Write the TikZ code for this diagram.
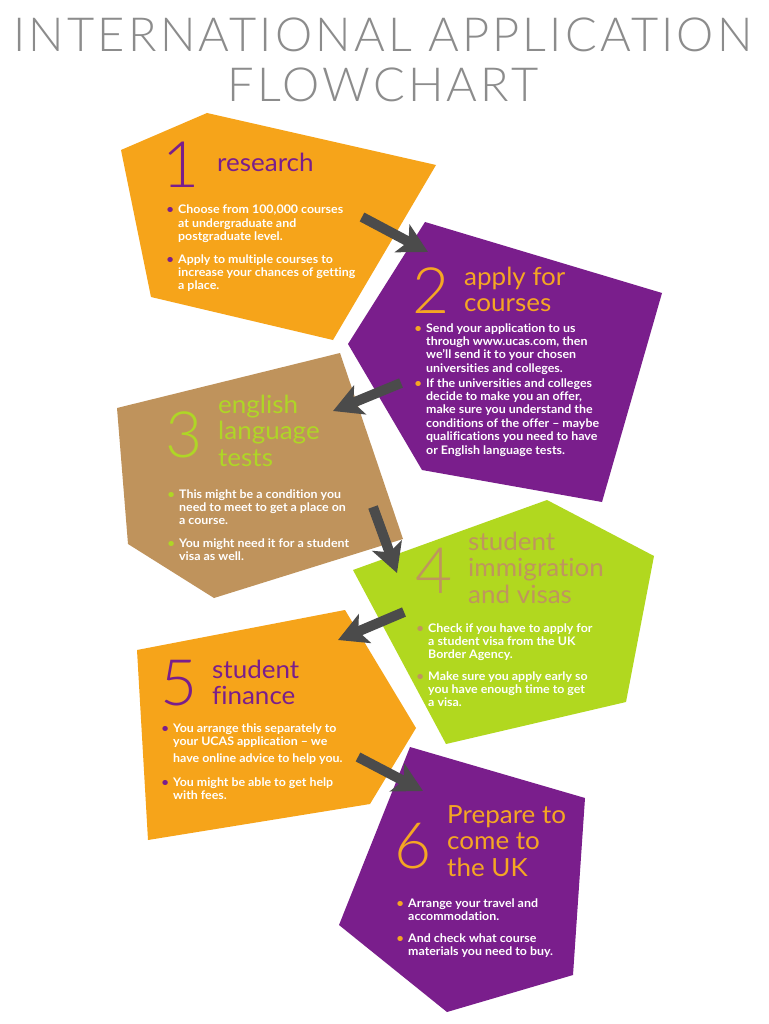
\documentclass[tikz,border=0pt]{standalone}
\usepackage{fontspec}
\setmainfont{Lato}[Ligatures=NoCommon]
\newfontfamily\thinfont{Lato Light}
\usetikzlibrary{arrows.meta}
\definecolor{orng}{HTML}{F6A41A}
\definecolor{purp}{HTML}{7A1E8C}
\definecolor{tan}{HTML}{BF935C}
\definecolor{lime}{HTML}{B1D81F}
\definecolor{headorng}{HTML}{F5A623}
\definecolor{headlime}{HTML}{AFD626}
\definecolor{headtan}{HTML}{BF955E}
\definecolor{titlegray}{HTML}{8C8C8C}
\definecolor{arrowgray}{HTML}{4B4B4B}
\newcommand\btext[2]{\begin{tabular}[t]{@{}l@{}}\llap{\textcolor{#1}{\textbullet}\hspace{4.5pt}}#2\end{tabular}}
\newcommand\hlines[1]{\begin{tabular}[t]{@{}l@{}}#1\end{tabular}}
\tikzset{
  body/.style={inner sep=0pt, anchor=base west, text=white, font=\bfseries\fontsize{11.8}{13.4}\selectfont\addfontfeature{FakeStretch=1.05}},
  head/.style={inner sep=0pt, anchor=base west, font=\fontsize{25}{26.8}\selectfont\addfontfeature{FakeStretch=1.04}},
  num/.style={inner sep=0pt, anchor=base, font=\thinfont\fontsize{64}{64}\selectfont},
  titletext/.style={inner sep=0pt, anchor=base, text=titlegray, font=\thinfont\fontsize{47}{47}\selectfont\addfontfeature{LetterSpace=6.8}},
  bigarrow/.style={draw=arrowgray, line width=10pt, -{Stealth[length=29pt, width=31pt, inset=7pt]}}
}
\begin{document}
\begin{tikzpicture}[x=1pt,y=-1pt]
\useasboundingbox (0,0) rectangle (768,1024);
\fill[white] (0,0) rectangle (768,1024);

% title
\node[titletext] (t1) at (383,52) {INTERNATIONAL APPLICATION};
\node[titletext] (t2) at (383,102) {FLOWCHART};

% shapes
\fill[orng] (207,113) -- (436,165) -- (333,340) -- (151,297) -- (121,150) -- cycle;
\fill[purp] (425,222) -- (662,293) -- (602,502) -- (422,470) -- (348,344) -- cycle;
\fill[tan]  (340,353) -- (403,539) -- (214,598) -- (128,544) -- (117,408) -- cycle;
\fill[lime] (547,500) -- (654,556) -- (626,702) -- (446,744) -- (353,570) -- cycle;
\fill[orng] (345,610) -- (416,728) -- (370,804) -- (148,840) -- (137,650) -- cycle;
\fill[purp] (410,747) -- (585,798) -- (573,975) -- (447,1012) -- (339,925) -- cycle;

% step 1
\node[num, text=purp] (n1) at (181,188) {1};
\node[head, text=purp] (h1) at (217,172) {research};
\node[body] (b1a) at (178,214) {\btext{purp}{Choose from 100,000 courses\\at undergraduate and\\postgraduate level.}};
\node[body] (b1b) at (178,263) {\btext{purp}{Apply to multiple courses to\\increase your chances of getting\\a place.}};

% step 2
\node[num, text=headorng] (n2) at (431,313) {2};
\node[head, text=headorng] (h2) at (464,285) {\hlines{apply for\\courses}};
\node[body] (b2a) at (426,332) {\btext{headorng}{Send your application to us\\through www.ucas.com, then\\we'll send it to your chosen\\universities and colleges.}};
\node[body] (b2b) at (426,387) {\btext{headorng}{If the universities and colleges\\decide to make you an offer,\\make sure you understand the\\conditions of the offer – maybe\\qualifications you need to have\\or English language tests.}};

% step 3
\node[num, text=headlime] (n3) at (184,457) {3};
\node[head, text=headlime] (h3) at (218,413) {\hlines{english\\language\\tests}};
\node[body] (b3a) at (179,498) {\btext{headlime}{This might be a condition you\\need to meet to get a place on\\a course.}};
\node[body] (b3b) at (179,547) {\btext{headlime}{You might need it for a student\\visa as well.}};

% step 4
\node[num, text=headtan] (n4) at (434,593) {4};
\node[head, text=headtan] (h4) at (468,550) {\hlines{student\\immigration\\and visas}};
\node[body] (b4a) at (428,632) {\btext{headtan}{Check if you have to apply for\\a student visa from the UK\\Border Agency.}};
\node[body] (b4b) at (428,680) {\btext{headtan}{Make sure you apply early so\\you have enough time to get\\a visa.}};

% step 5
\node[num, text=purp] (n5) at (179,705) {5};
\node[head, text=purp] (h5) at (212,678) {\hlines{student\\finance}};
\node[body] (b5a) at (173,732) {\btext{purp}{You arrange this separately to\\your UCAS application – we\\[4pt]have online advice to help you.}};
\node[body] (b5b) at (173,786) {\btext{purp}{You might be able to get help\\with fees.}};

% step 6
\node[num, text=headorng] (n6) at (413,868) {6};
\node[head, text=headorng] (h6) at (447,823) {\hlines{Prepare to\\come to\\the UK}};
\node[body] (b6a) at (408,907) {\btext{headorng}{Arrange your travel and\\accommodation.}};
\node[body] (b6b) at (408,942) {\btext{headorng}{And check what course\\materials you need to buy.}};

% arrows
\coordinate (a1s) at (362,217); \coordinate (a1e) at (428,252);
\coordinate (a2s) at (401,383); \coordinate (a2e) at (333,411);
\coordinate (a3s) at (373,507); \coordinate (a3e) at (397,573);
\coordinate (a4s) at (404,612); \coordinate (a4e) at (338,640);
\coordinate (a5s) at (358,757); \coordinate (a5e) at (423,791);
\draw[bigarrow] (a1s) -- (a1e);
\draw[bigarrow] (a2s) -- (a2e);
\draw[bigarrow] (a3s) -- (a3e);
\draw[bigarrow] (a4s) -- (a4e);
\draw[bigarrow] (a5s) -- (a5e);
\end{tikzpicture}
\end{document}
